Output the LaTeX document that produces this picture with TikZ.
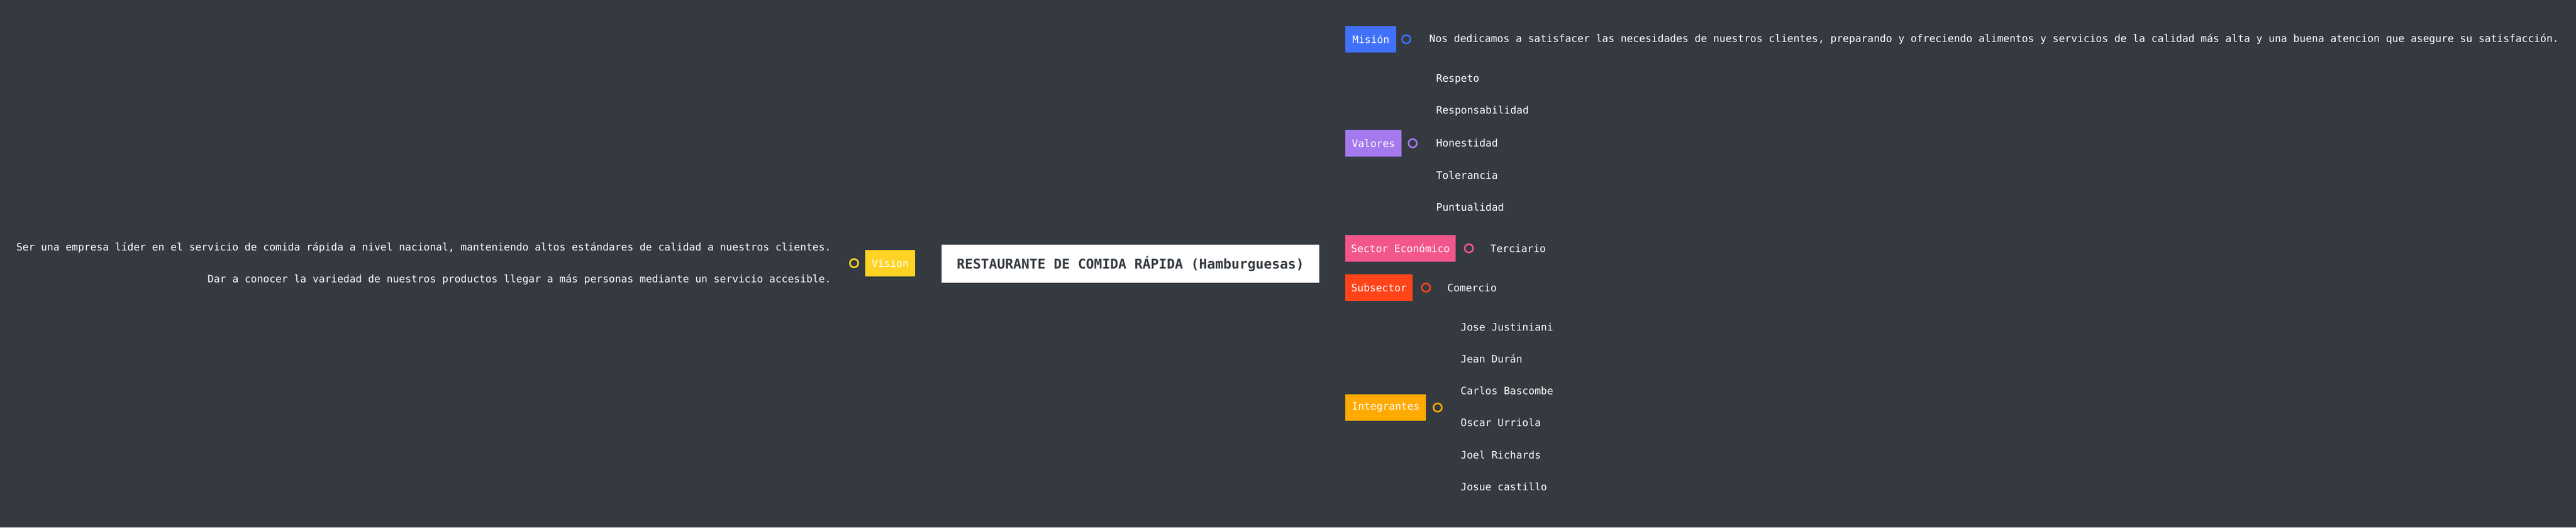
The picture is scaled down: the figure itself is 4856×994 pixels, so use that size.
\documentclass[tikz,border=0pt]{standalone}
\usepackage{fontspec}
\setmonofont{DejaVu Sans Mono}
\usetikzlibrary{backgrounds}
\definecolor{bg}{HTML}{343A40}
\definecolor{cblue}{HTML}{4170FA}
\definecolor{cpurple}{HTML}{A479EE}
\definecolor{cpink}{HTML}{F2568C}
\definecolor{cred}{HTML}{FF4419}
\definecolor{corange}{HTML}{FFAA00}
\definecolor{cyellow}{HTML}{FFD324}
\tikzset{
 box/.style={fill=#1,text=white,font=\ttfamily\fontsize{11}{13}\selectfont,minimum height=28pt,inner sep=0pt,anchor=west},
 leaf/.style={text=white,font=\ttfamily\fontsize{11}{13}\selectfont,inner sep=0pt,anchor=west},
 leafl/.style={text=white,font=\ttfamily\fontsize{11}{13}\selectfont,inner sep=0pt,anchor=east},
 knot/.style={circle,draw=#1,fill=bg,line width=1.7pt,minimum size=9pt,inner sep=0pt},
 conn/.style={draw=#1,line width=1.7pt},
}
\begin{document}
\begin{tikzpicture}[x=0.02cm,y=-0.02cm]
\fill[bg] (0,0) rectangle (4856,994);
\useasboundingbox (0,0) rectangle (4856,994);
% center
\node[fill=white,minimum width=405pt,minimum height=41pt,inner sep=0pt,font=\ttfamily\bfseries\fontsize{14.4}{16}\selectfont,text=bg] (c) at (2131,497) {RESTAURANTE DE COMIDA RÁPIDA (Hamburguesas)};
% boxes
\node[box=cblue,minimum width=54.6pt] (mis) at (2536,74) {Misión};
\node[box=cpurple,minimum width=60pt] (val) at (2536,270) {Valores};
\node[box=cpink,minimum width=118pt] (sec) at (2536,468) {Sector Económico};
\node[box=cred,minimum width=72pt] (sub) at (2536,542) {Subsector};
\node[box=corange,minimum width=86.5pt] (int) at (2536,768) {Integrantes};
\node[box=cyellow,minimum width=53pt,anchor=center] (vis) at (1678,496) {Vision};
% knots
\node[knot=cblue] (kmis) at (2651,74) {};
\node[knot=cpurple] (kval) at (2663,270) {};
\node[knot=cpink] (ksec) at (2769,468) {};
\node[knot=cred] (ksub) at (2688,542) {};
\node[knot=corange] (kint) at (2710,768) {};
\node[knot=cyellow] (kvis) at (1610,496) {};
% leaves
\coordinate (emis) at (2679,74);
\node[leaf] (tmis) at (2694,74) {Nos dedicamos a satisfacer las necesidades  de nuestros clientes, preparando y ofreciendo alimentos y servicios de la calidad más alta y una buena atencion que asegure su satisfacción.};
\foreach \t [count=\i] in {Respeto,Responsabilidad,Honestidad,Tolerancia,Puntualidad}{
  \pgfmathsetmacro\yy{149+60.25*(\i-1)}
  \coordinate (ev\i) at (2691,\yy);
  \node[leaf] (tv\i) at (2707,\yy) {\t};
}
\coordinate (esec) at (2797,468);
\node[leaf] (tsec) at (2809,468) {Terciario};
\coordinate (esub) at (2716,542);
\node[leaf] (tsub) at (2728,542) {Comercio};
\foreach \t [count=\i] in {Jose Justiniani,Jean Durán,Carlos Bascombe,Oscar Urriola,Joel Richards,Josue castillo}{
  \pgfmathsetmacro\yy{616+60.2*(\i-1)}
  \coordinate (ei\i) at (2738,\yy);
  \node[leaf] (ti\i) at (2753,\yy) {\t};
}
\coordinate (evis1) at (1580,467);
\coordinate (evis2) at (1580,527);
\node[leafl] (tvis1) at (1567,467) {Ser una empresa líder en el servicio de comida rápida a nivel nacional, manteniendo altos estándares de calidad a nuestros clientes.};
\node[leafl] (tvis2) at (1567,527) {Dar a conocer la variedad de nuestros productos llegar a más personas mediante un servicio accesible.};
\begin{scope}[on background layer]
\fill[bg] (0,0) rectangle (4856,994);
\draw[conn=cblue] (c.center) -- (mis.west);
\draw[conn=cpurple] (c.center) -- (val.west);
\draw[conn=cpink] (c.center) -- (sec.west);
\draw[conn=cred] (c.center) -- (sub.west);
\draw[conn=corange] (c.center) -- (int.west);
\draw[conn=cyellow] (c.center) -- (vis.center);
\draw[conn=cblue] (mis.east) -- (kmis) -- (emis);
\draw[conn=cpurple] (val.east) -- (kval);
\foreach \i in {1,...,5}{\draw[conn=cpurple,line width=1.4pt] (kval.center) -- (ev\i);}
\draw[conn=cpink] (sec.east) -- (ksec) -- (esec);
\draw[conn=cred] (sub.east) -- (ksub) -- (esub);
\draw[conn=corange] (int.east) -- (kint);
\foreach \i in {1,...,6}{\draw[conn=corange,line width=1.4pt] (kint.center) -- (ei\i);}
\draw[conn=cyellow] (kvis.center) -- (evis1);
\draw[conn=cyellow] (kvis.center) -- (evis2);
\end{scope}
\end{tikzpicture}
\end{document}
